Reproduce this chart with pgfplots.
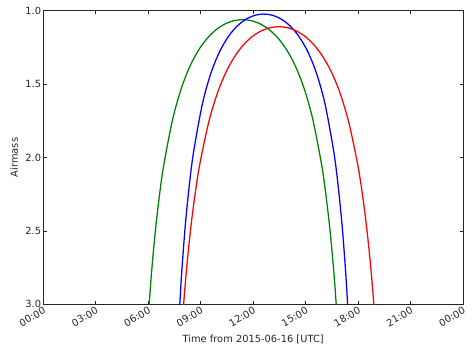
\documentclass[border=0pt]{standalone}
\usepackage{pgfplots}
\pgfplotsset{compat=1.18}
\usepackage{fontspec}
\setmainfont{DejaVu Sans}
\begin{document}
\begin{tikzpicture}
\begin{axis}[
  scale only axis,
  width=314.8pt, height=220.2pt,
  xmin=0, xmax=24, ymin=1, ymax=3,
  y dir=reverse,
  xtick={0,3,6,9,12,15,18,21,24},
  xticklabels={00:00,03:00,06:00,09:00,12:00,15:00,18:00,21:00,00:00},
  ytick={1,1.5,2,2.5,3},
  yticklabels={1.0,1.5,2.0,2.5,3.0},
  tick align=inside,
  major tick length=2.5pt,
  axis line style={line width=0.6pt, black!85},
  every tick/.style={black!85, line width=0.5pt},
  tick label style={font=\fontsize{7.4}{9}\selectfont, black!85},
  xticklabel style={rotate=30, anchor=north east, inner sep=1pt},
  yticklabel style={inner sep=1.5pt},
  label style={font=\fontsize{7.4}{9}\selectfont, black!85},
  xlabel={Time from 2015-06-16 [UTC]},
  ylabel={Airmass},
  xlabel style={at={(axis description cs:0.5,-0.118)}, anchor=center},
  ylabel style={at={(axis description cs:-0.0693,0.5)}, anchor=center},
  /pgf/number format/assume math mode=true,
]
\addplot[color={rgb,1:red,0;green,0.5;blue,0}, line width=0.95pt, smooth] coordinates {
(5.9,3.2796) (6.15,2.8388) (6.4,2.5063) (6.65,2.2476) (6.9,2.0416) (7.4,1.7366) (7.9,1.5253) (8.4,1.3742) (8.9,1.2643) (9.4,1.1845) (9.9,1.1278) (10.4,1.0899) (10.9,1.0681) (11.4,1.0610) (11.9,1.0681) (12.4,1.0899) (12.9,1.1278) (13.4,1.1845) (13.9,1.2643) (14.4,1.3742) (14.9,1.5253) (15.4,1.7366) (15.9,2.0416) (16.15,2.2476) (16.4,2.5063) (16.65,2.8388) (16.9,3.2796)
};
\addplot[color={rgb,1:red,0;green,0;blue,1}, line width=0.95pt, smooth] coordinates {
(7.6,3.4895) (7.85,2.8990) (8.1,2.4874) (8.35,2.1853) (8.6,1.9554) (9.1,1.6319) (9.6,1.4195) (10.1,1.2741) (10.6,1.1729) (11.1,1.1031) (11.6,1.0574) (12.1,1.0314) (12.6,1.0230) (13.1,1.0314) (13.6,1.0574) (14.1,1.1031) (14.6,1.1729) (15.1,1.2741) (15.6,1.4195) (16.1,1.6319) (16.6,1.9554) (16.85,2.1853) (17.1,2.4874) (17.35,2.8990) (17.6,3.4895)
};
\addplot[color={rgb,1:red,1;green,0;blue,0}, line width=0.95pt, smooth] coordinates {
(7.71,3.5773) (7.96,3.0970) (8.21,2.7332) (8.46,2.4492) (8.71,2.2223) (8.96,2.0377) (9.46,1.7579) (9.96,1.5595) (10.46,1.4150) (10.96,1.3087) (11.46,1.2307) (11.96,1.1750) (12.46,1.1376) (12.96,1.1161) (13.46,1.1090) (13.96,1.1161) (14.46,1.1376) (14.96,1.1750) (15.46,1.2307) (15.96,1.3087) (16.46,1.4150) (16.96,1.5595) (17.46,1.7579) (17.96,2.0377) (18.21,2.2223) (18.46,2.4492) (18.71,2.7332) (18.96,3.0970) (19.21,3.5773)
};
\end{axis}
\pgfresetboundingbox
\useasboundingbox (-32.5pt,-38pt) rectangle (323pt,228.2pt);
\end{tikzpicture}
\end{document}
